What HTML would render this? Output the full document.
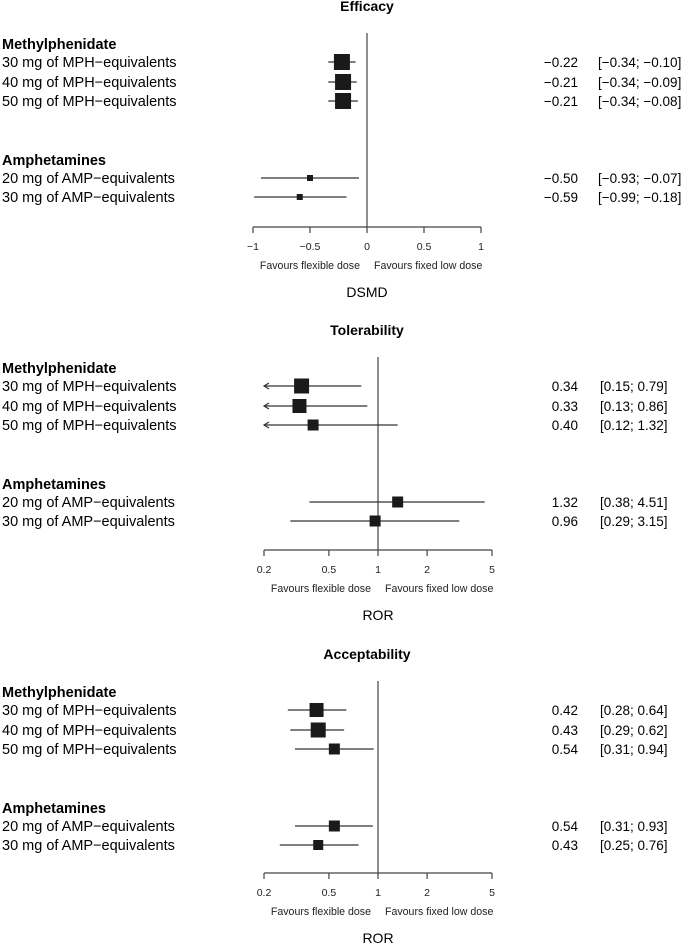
<!DOCTYPE html>
<html><head><meta charset="utf-8"><style>
html,body{margin:0;padding:0;background:#fff}
svg{display:block;font-family:"Liberation Sans",Arial,sans-serif}
</style></head><body>
<svg id="chart" width="685" height="944" viewBox="0 0 685 944"></svg>
<script>
const labels=["30 mg of MPH\u2212equivalents","40 mg of MPH\u2212equivalents","50 mg of MPH\u2212equivalents","20 mg of AMP\u2212equivalents","30 mg of AMP\u2212equivalents"];
const effEst=[-0.22,-0.21,-0.21,-0.50,-0.59];
const effLo=[-0.34,-0.34,-0.34,-0.93,-0.99];
const effHi=[-0.10,-0.09,-0.08,-0.07,-0.18];
const effSize=[16,16,16,6,6];
const tolEst=[0.34,0.33,0.40,1.32,0.96];
const tolLo=[0.15,0.13,0.12,0.38,0.29];
const tolHi=[0.79,0.86,1.32,4.51,3.15];
const tolSize=[15,14,11,11,11];
const accEst=[0.42,0.43,0.54,0.54,0.43];
const accLo=[0.28,0.29,0.31,0.31,0.25];
const accHi=[0.64,0.62,0.94,0.93,0.76];
const accSize=[14,15,11,11,10];
const effTicks=[-1,-0.5,0,0.5,1];
const effTickLabels=["\u22121","\u22120.5","0","0.5","1"];
const rorTicks=[0.2,0.5,1,2,5];
const rorTickLabels=["0.2","0.5","1","2","5"];

const NS="http://www.w3.org/2000/svg";
const svg=document.getElementById('chart');
function mk(tag,attrs,parent,text){const e=document.createElementNS(NS,tag);for(const k in attrs)e.setAttribute(k,attrs[k]);if(text!==undefined)e.textContent=text;(parent||svg).appendChild(e);return e;}
function fmt(v){return (v<0?"\u2212":"")+Math.abs(v).toFixed(2);}

function panel(cfg){
  const g=mk('g',{});
  
  
  const x=cfg.scale;
  let t=mk('text',{x:367,y:cfg.top+11,'text-anchor':'middle','font-size':14,'font-weight':'bold'},g,cfg.title);
  
  const rows=[cfg.top+62,cfg.top+82,cfg.top+101,cfg.top+178,cfg.top+197];
  t=mk('text',{x:2,y:cfg.top+49,'font-size':14.5,'font-weight':'bold'},g,'Methylphenidate');
  
  t=mk('text',{x:2,y:cfg.top+165,'font-size':14.5,'font-weight':'bold'},g,'Amphetamines');
  
  const ref=mk('line',{x1:x(cfg.refV),x2:x(cfg.refV),y1:cfg.top+33,y2:cfg.axisY,stroke:'#444','stroke-width':1.2},g);
  
  const xmin=x(cfg.ticks[0]);
  for(let i=0;i<5;i++){
    const y=rows[i];
    let l=mk('text',{x:2,y:y+5,'font-size':14.5},g,labels[i]);
    
    const lo=cfg.lo[i];
    const x1=lo<cfg.ticks[0]?xmin:x(lo);
    const ci=mk('line',{x1:x1,x2:x(cfg.hi[i]),y1:y,y2:y,stroke:'#333','stroke-width':1.2},g);
    
    if(lo<cfg.ticks[0]){
      const ar=mk('path',{d:`M${xmin+5},${y-3} L${xmin},${y} L${xmin+5},${y+3}`,fill:'none',stroke:'#333','stroke-width':1.2},g);
      
    }
    const s=cfg.size[i];
    const sq=mk('rect',{x:x(cfg.est[i])-s/2,y:y-s/2,width:s,height:s,fill:'#1a1a1a'},g);
    
    const v=mk('text',{x:578,y:y+5,'text-anchor':'end','font-size':13.5},g,fmt(cfg.est[i]));
    
    const c=mk('text',{x:cfg.ciX,y:y+5,'font-size':13.5},g,'['+fmt(lo)+'; '+fmt(cfg.hi[i])+']');
    
  }
  const ax=mk('line',{x1:xmin,x2:x(cfg.ticks[4]),y1:cfg.axisY,y2:cfg.axisY,stroke:'#444','stroke-width':1.2},g);
  
  cfg.ticks.forEach((tv,i)=>{
    const tk=mk('line',{x1:x(tv),x2:x(tv),y1:cfg.axisY,y2:cfg.axisY+6,stroke:'#444','stroke-width':1.2},g);
    
    const tl=mk('text',{x:x(tv),y:cfg.axisY+23,'text-anchor':'middle','font-size':10.5,fill:'#222'},g,cfg.tickLabels[i]);
    
  });
  const cx=x(cfg.refV);
  let f=mk('text',{x:cx-7,y:cfg.axisY+42,'text-anchor':'end','font-size':10.6,fill:'#222'},g,'Favours flexible dose');
  
  f=mk('text',{x:cx+7,y:cfg.axisY+42,'font-size':10.6,fill:'#222'},g,'Favours fixed low dose');
  
  f=mk('text',{x:cx,y:cfg.axisY+70,'text-anchor':'middle','font-size':14},g,cfg.axisTitle);
  
}
const effX=v=>367+v*114;
const rorX=v=>378+Math.log(v)/Math.log(5)*114;
panel({name:'efficacy',title:'Efficacy',top:0,axisY:227,scale:effX,refV:0,est:effEst,lo:effLo,hi:effHi,size:effSize,ticks:effTicks,tickLabels:effTickLabels,axisTitle:'DSMD',ciX:598});
panel({name:'tolerability',title:'Tolerability',top:324,axisY:550,scale:rorX,refV:1,est:tolEst,lo:tolLo,hi:tolHi,size:tolSize,ticks:rorTicks,tickLabels:rorTickLabels,axisTitle:'ROR',ciX:600});
panel({name:'acceptability',title:'Acceptability',top:648,axisY:873,scale:rorX,refV:1,est:accEst,lo:accLo,hi:accHi,size:accSize,ticks:rorTicks,tickLabels:rorTickLabels,axisTitle:'ROR',ciX:600});
</script>
</body></html>
